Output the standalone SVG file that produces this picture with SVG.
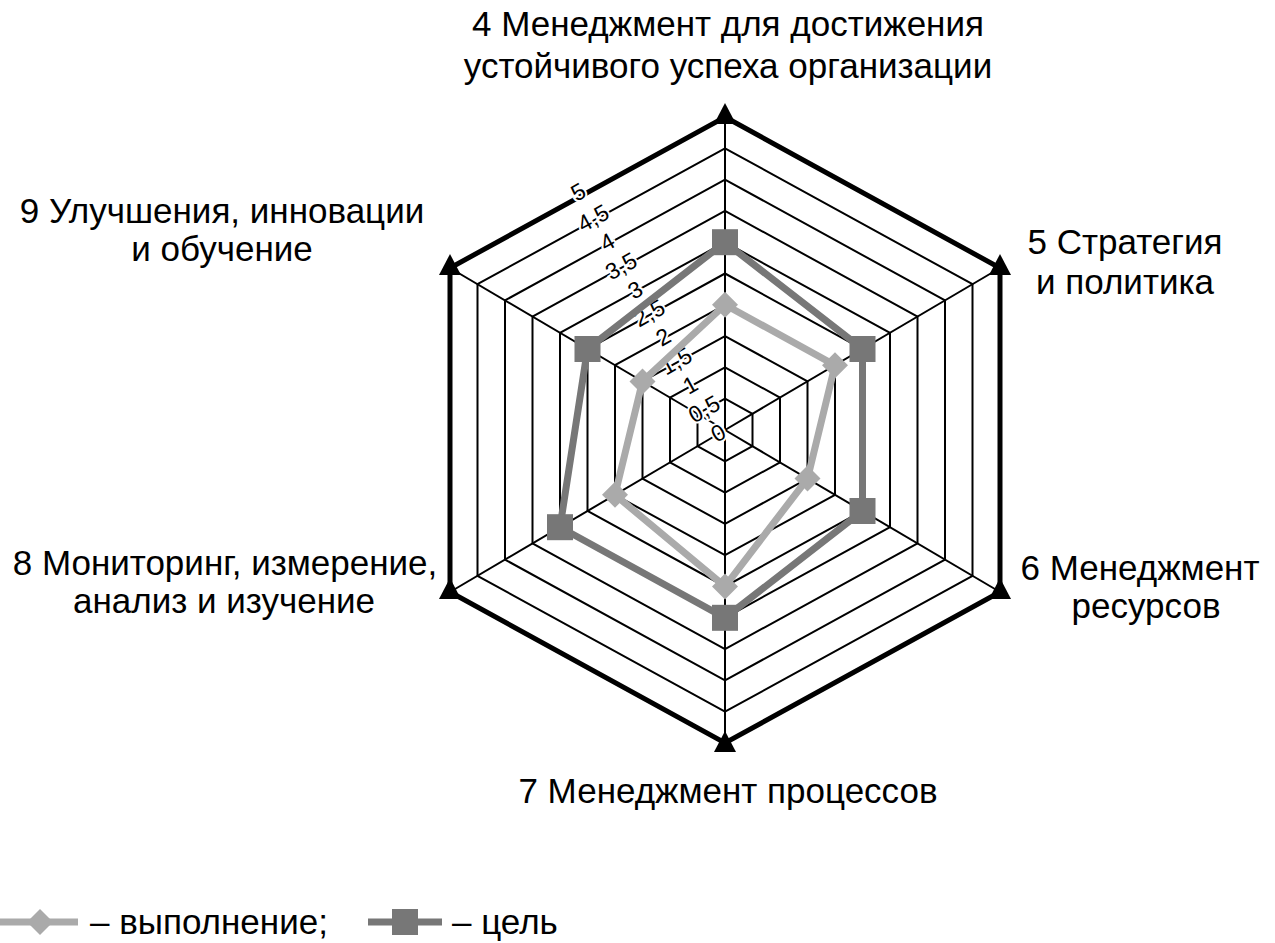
<svg xmlns="http://www.w3.org/2000/svg" width="1275" height="943" viewBox="0 0 1275 943">
<style>
.ring{fill:none;stroke:#000;stroke-width:2}
.spoke{stroke:#000;stroke-width:2}
.lbl{font-family:"Liberation Sans",Arial,sans-serif;font-size:35px;fill:#000;text-anchor:middle}
.ax{font-family:"Liberation Sans",Arial,sans-serif;font-size:23px;fill:#000;text-anchor:middle;stroke:#fff;stroke-width:4;paint-order:stroke}
.goal{fill:none;stroke:#777;stroke-width:7}
.perf{fill:none;stroke:#aaa;stroke-width:7}
.leg{font-family:"Liberation Sans",Arial,sans-serif;font-size:35px}
</style>
<defs>
<rect id="sq" x="-13" y="-13" width="26" height="26" fill="#777"/>
<polygon id="dm" points="0,-13 13,0 0,13 -13,0" fill="#aaa"/>
<polygon id="tr" points="0,-12 11,9 -11,9" fill="#000"/>
</defs>
<g id="grid">
<polygon class="ring" points="725,398.7 752.5,413.8 752.5,446.2 725,461.3 697.5,446.2 697.5,413.8"/>
<polygon class="ring" points="725,367.4 780,397.6 780,462.4 725,492.6 670,462.4 670,397.6"/>
<polygon class="ring" points="725,336.1 807.5,381.4 807.5,478.6 725,523.9 642.5,478.6 642.5,381.4"/>
<polygon class="ring" points="725,304.8 835,365.2 835,494.8 725,555.2 615,494.8 615,365.2"/>
<polygon class="ring" points="725,273.5 862.5,349 862.5,511 725,586.5 587.5,511 587.5,349"/>
<polygon class="ring" points="725,242.2 890,332.8 890,527.2 725,617.8 560,527.2 560,332.8"/>
<polygon class="ring" points="725,210.9 917.5,316.6 917.5,543.4 725,649.1 532.5,543.4 532.5,316.6"/>
<polygon class="ring" points="725,179.6 945,300.4 945,559.6 725,680.4 505,559.6 505,300.4"/>
<polygon class="ring" points="725,148.3 972.5,284.2 972.5,575.8 725,711.7 477.5,575.8 477.5,284.2"/>
<polygon class="ring" style="stroke-width:5" points="725,117 1000,268 1000,592 725,743 450,592 450,268"/>
<line class="spoke" x1="725" y1="430" x2="725" y2="117"/>
<line class="spoke" x1="725" y1="430" x2="1000" y2="268"/>
<line class="spoke" x1="725" y1="430" x2="1000" y2="592"/>
<line class="spoke" x1="725" y1="430" x2="725" y2="743"/>
<line class="spoke" x1="725" y1="430" x2="450" y2="592"/>
<line class="spoke" x1="725" y1="430" x2="450" y2="268"/>
</g>
<g id="axis-labels">
<text class="ax" transform="translate(722,440) rotate(-29)">0</text>
<text class="ax" transform="translate(708,416) rotate(-29)">0,5</text>
<text class="ax" transform="translate(694,392) rotate(-29)">1</text>
<text class="ax" transform="translate(680,368) rotate(-29)">1,5</text>
<text class="ax" transform="translate(667,344) rotate(-29)">2</text>
<text class="ax" transform="translate(653,320) rotate(-29)">2,5</text>
<text class="ax" transform="translate(639,297) rotate(-29)">3</text>
<text class="ax" transform="translate(625,273) rotate(-29)">3,5</text>
<text class="ax" transform="translate(611,249) rotate(-29)">4</text>
<text class="ax" transform="translate(597,225) rotate(-29)">4,5</text>
<text class="ax" transform="translate(582,199) rotate(-29)">5</text>
</g>
<g id="series-goal">
<polygon class="goal" points="725,242.2 862.5,349 862.5,511 725,617.8 560,527.2 587.5,349"/>
<use href="#sq" x="725" y="242.2"/><use href="#sq" x="862.5" y="349"/><use href="#sq" x="862.5" y="511"/>
<use href="#sq" x="725" y="617.8"/><use href="#sq" x="560" y="527.2"/><use href="#sq" x="587.5" y="349"/>
</g>
<g id="series-perf">
<polygon class="perf" points="725,304.8 835,365.2 807.5,478.6 725,586.5 615,494.8 642.5,381.4"/>
<use href="#dm" x="725" y="304.8"/><use href="#dm" x="835" y="365.2"/><use href="#dm" x="807.5" y="478.6"/>
<use href="#dm" x="725" y="586.5"/><use href="#dm" x="615" y="494.8"/><use href="#dm" x="642.5" y="381.4"/>
</g>
<g id="vertex-markers">
<use href="#tr" x="725" y="115"/><use href="#tr" x="1000" y="266"/><use href="#tr" x="1000" y="590"/>
<use href="#tr" x="725" y="743"/><use href="#tr" x="450" y="590"/><use href="#tr" x="450" y="266"/>
</g>
<g id="labels">
<text class="lbl" x="728" y="36">4 Менеджмент для достижения</text>
<text class="lbl" x="728" y="78">устойчивого успеха организации</text>
<text class="lbl" x="1125" y="254">5 Стратегия</text>
<text class="lbl" x="1125" y="294">и политика</text>
<text class="lbl" x="1140" y="580">6 Менеджмент</text>
<text class="lbl" x="1146" y="618">ресурсов</text>
<text class="lbl" x="728" y="803">7 Менеджмент процессов</text>
<text class="lbl" x="225" y="575">8 Мониторинг, измерение,</text>
<text class="lbl" x="224" y="613">анализ и изучение</text>
<text class="lbl" x="222" y="223">9 Улучшения, инновации</text>
<text class="lbl" x="222" y="261">и обучение</text>
</g>
<g id="legend">
<line x1="0" y1="922" x2="78" y2="922" stroke="#aaa" stroke-width="7"/>
<use href="#dm" x="40" y="922"/>
<text class="leg" x="90" y="934">– выполнение;</text>
<line x1="368" y1="922" x2="442" y2="922" stroke="#777" stroke-width="7"/>
<use href="#sq" x="405" y="922"/>
<text class="leg" x="452" y="934">– цель</text>
</g>
</svg>
